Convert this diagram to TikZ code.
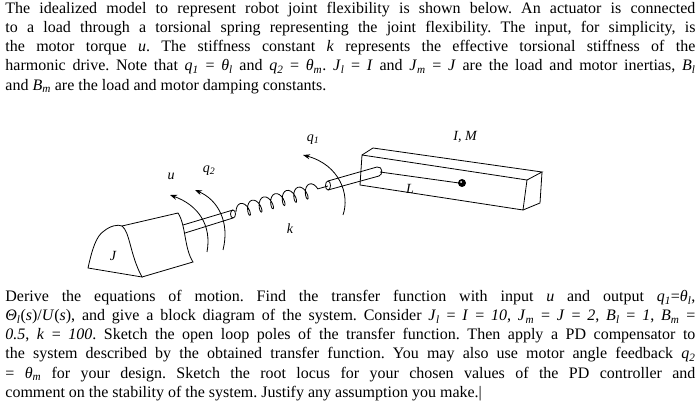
\documentclass[tikz,border=0pt]{standalone}
\usepackage{fontspec}
\setmainfont{Liberation Serif}
\usetikzlibrary{decorations.pathmorphing,arrows.meta}
\newcommand{\mi}[1]{\textit{#1}}
\newcommand{\ms}[2]{\textit{#1}\textsubscript{\textit{#2}}}
\begin{document}
\begin{tikzpicture}[x=1pt,y=-1pt,line width=0.8pt,
  para/.style={anchor=north west,text width=690pt,align=justify,inner sep=0pt,font=\fontsize{16}{19.1}\selectfont\frenchspacing},
  lbl/.style={font=\fontsize{14}{14}\selectfont\itshape,inner sep=0pt},
  arr/.style={-{Stealth[length=7pt,width=5pt]}}]
\useasboundingbox (0,0) rectangle (700,419);
\fill[white] (0,0) rectangle (700,419);
\node[para] (top) at (5,2) {The idealized model to represent robot joint flexibility is shown below. An actuator is connected\linebreak to a load through a torsional spring representing the joint flexibility. The input, for simplicity, is\linebreak the motor torque \mi{u}. The stiffness constant \mi{k} represents the effective torsional stiffness of the\linebreak harmonic drive. Note that \ms{q}{1} = \ms{θ}{l} and \ms{q}{2} = \ms{θ}{m}. \ms{J}{l} = \mi{I} and \ms{J}{m} = \mi{J} are the load and motor inertias, \ms{B}{l}\linebreak and \ms{B}{m} are the load and motor damping constants.};
\node[para] (bot) at (5,290) {Derive the equations of motion. Find the transfer function with input \mi{u} and output \ms{q}{1}=\ms{θ}{l},\linebreak \ms{Θ}{l}(\mi{s})/\mi{U}(\mi{s}), and give a block diagram of the system. Consider \ms{J}{l} = \mi{I} = \mi{10}, \ms{J}{m} = \mi{J} = \mi{2}, \ms{B}{l} = \mi{1}, \ms{B}{m} =\linebreak \mi{0.5}, \mi{k} = \mi{100}. Sketch the open loop poles of the transfer function. Then apply a PD compensator to\linebreak the system described by the obtained transfer function. You may also use motor angle feedback \ms{q}{2}\linebreak = \ms{θ}{m} for your design. Sketch the root locus for your chosen values of the PD controller and\linebreak comment on the stability of the system. Justify any assumption you make.|};
% motor
\draw (88,268) .. controls (92,250) and (96,236) .. (104,231) .. controls (110,226) and (118,224) .. (122,226) .. controls (130,232) and (130,255) .. (142,277) -- cycle;
\draw (122,226) -- (178,213) .. controls (186,225) and (184,248) .. (193,262) -- (142,277);
\node[lbl] (J) at (113,256) {J};
% motor shaft
\draw (183,225) -- (233,210);
\draw (185,233) -- (233,218);
\draw (233,214) ellipse (2.5 and 4);
% spring
\draw[decorate,decoration={coil,aspect=0.5,segment length=12pt,amplitude=7pt}] (236,212) -- (328,186);
\node[lbl] (k) at (290,229) {k};
% load shaft
\draw (328,181) -- (377,167);
\draw (328,190) -- (379,176);
\draw (328,185.5) ellipse (2.5 and 4.5);
\draw (377,167) .. controls (383,166) and (383,175) .. (379,176);
% bar
\draw (362,155) -- (527,180) -- (523,210) -- (360,185) -- cycle;
\draw (362,155) -- (373,148) -- (542,172) -- (527,180);
\draw (542,172) -- (540,203) -- (523,210);
\draw (380,172) -- (459,183);
\fill (462,183) circle (4);
\fill[white] (461,182) circle (1);
\node[lbl] (L) at (410,189) {L};
\node[lbl] (IM) at (465,137) {I, M};
% arrows
\draw[arr] (343,215) .. controls (350,195) and (340,165) .. (303,155);
\node[lbl] (q1) at (313,140) {q\textsubscript{1}};
\draw[arr] (207,252) .. controls (212,225) and (198,205) .. (170,195);
\node[lbl] (u) at (171,176) {u};
\draw[arr] (223,250) .. controls (230,222) and (218,200) .. (195,190);
\node[lbl] (q2) at (209,171) {q\textsubscript{2}};
\end{tikzpicture}
\end{document}
